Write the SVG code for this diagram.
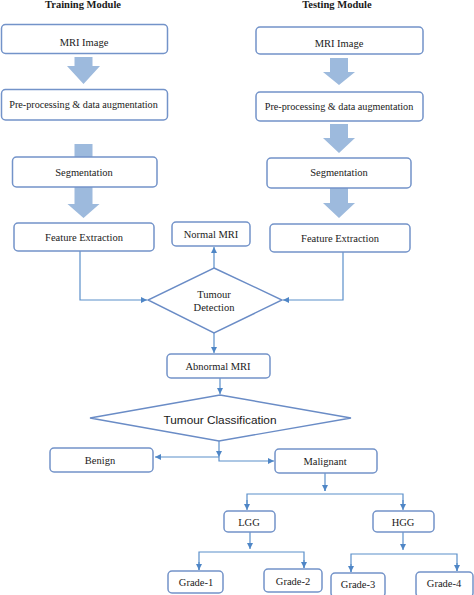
<svg xmlns="http://www.w3.org/2000/svg" width="474" height="595" viewBox="0 0 474 595">
<defs>
<style>
.box{fill:#ffffff;stroke:#7393c9;stroke-width:1.5}
.blk{fill:#9dbadd}
.t{font-family:"Liberation Serif","Times New Roman",serif;font-size:10.5px;fill:#1a1a1a;text-anchor:middle}
.h{font-family:"Liberation Serif","Times New Roman",serif;font-size:10.5px;font-weight:bold;fill:#1a1a1a;text-anchor:middle}
.s{font-family:"Liberation Sans",Arial,sans-serif;font-size:11.8px;fill:#1a1a1a;text-anchor:middle}
.c{fill:none;stroke:#5b8fca;stroke-width:1.2}
.d{fill:#ffffff;stroke:#6a8cc6;stroke-width:1.4}
</style>
<marker id="ah" viewBox="0 0 10 10" refX="10" refY="5" markerWidth="6" markerHeight="6" markerUnits="userSpaceOnUse" orient="auto">
<path d="M0,0 L10,5 L0,10 z" fill="#4f86c6"/>
</marker>
</defs>

<text class="h" x="83" y="8">Training Module</text>
<text class="h" x="337" y="8">Testing Module</text>

<g id="block-arrows">
<path class="blk" d="M74.5,57 H92.5 V66 H100 L83.5,84 L67,66 H74.5 Z"/>
<rect class="blk" x="74.5" y="144" width="18" height="13"/>
<path class="blk" d="M74.5,187 H92.5 V204 H99.5 L83.5,218 L67.5,204 H74.5 Z"/>
<path class="blk" d="M330,58 H348 V72 H355 L339,85 L323,72 H330 Z"/>
<path class="blk" d="M330,124 H348 V138 H355 L339,153 L323,138 H330 Z"/>
<path class="blk" d="M330,188 H348 V203 H355 L339,218 L323,203 H330 Z"/>
</g>

<g id="connectors">
<path class="c" d="M80,251 V300 H147" marker-end="url(#ah)"/>
<path class="c" d="M343,252 V300 H283" marker-end="url(#ah)"/>
<path class="c" d="M214,268 V247" marker-end="url(#ah)"/>
<path class="c" d="M214,333 V353" marker-end="url(#ah)"/>
<path class="c" d="M220,378 V394" marker-end="url(#ah)"/>
<path class="c" d="M219,441 V457" marker-end="url(#ah)"/>
<path class="c" d="M219,457 H155" marker-end="url(#ah)"/>
<path class="c" d="M219,457 V461 H274" marker-end="url(#ah)"/>
<path class="c" d="M325,473 V491"/>
<path class="c" d="M325,485 V491" marker-end="url(#ah)"/>
<path class="c" d="M247,508 V494 H403 V508"/>
<path class="c" d="M247,500 V510" marker-end="url(#ah)"/>
<path class="c" d="M403,500 V510" marker-end="url(#ah)"/>
<path class="c" d="M250,532 V549" marker-end="url(#ah)"/>
<path class="c" d="M199,570 V552 H304 V568"/>
<path class="c" d="M199,562 V570" marker-end="url(#ah)"/>
<path class="c" d="M304,560 V568" marker-end="url(#ah)"/>
<path class="c" d="M403,532 V550" marker-end="url(#ah)"/>
<path class="c" d="M351,572 V554 H457 V571"/>
<path class="c" d="M351,564 V572" marker-end="url(#ah)"/>
<path class="c" d="M457,563 V571" marker-end="url(#ah)"/>
</g>

<g id="train-mri"><rect class="box" x="1.5" y="24.5" width="166" height="29" rx="4"/><text class="t" x="84" y="45.5">MRI Image</text></g>
<g id="train-pre"><rect class="box" x="1.5" y="89.5" width="166" height="30.5" rx="4"/><text class="t" x="83.5" y="107.5" style="font-size:10.2px">Pre-processing &amp; data augmentation</text></g>
<g id="train-seg"><rect class="box" x="12.5" y="157" width="144.5" height="30" rx="4"/><text class="t" x="84" y="175.5">Segmentation</text></g>
<g id="train-feat"><rect class="box" x="14" y="223" width="140" height="28" rx="4"/><text class="t" x="84" y="240.5">Feature Extraction</text></g>

<g id="test-mri"><rect class="box" x="256" y="27" width="167" height="27" rx="4"/><text class="t" x="339" y="46.5">MRI Image</text></g>
<g id="test-pre"><rect class="box" x="256" y="92" width="167" height="29" rx="4"/><text class="t" x="339" y="109.5" style="font-size:10.2px">Pre-processing &amp; data augmentation</text></g>
<g id="test-seg"><rect class="box" x="267" y="158" width="144" height="30" rx="4"/><text class="t" x="339" y="176">Segmentation</text></g>
<g id="test-feat"><rect class="box" x="270" y="224" width="140" height="28" rx="4"/><text class="t" x="340" y="241.5">Feature Extraction</text></g>

<g id="normal-mri"><rect class="box" x="172" y="222" width="78" height="24" rx="4"/><text class="t" x="211" y="237.5">Normal MRI</text></g>
<g id="tumour-detection"><polygon class="d" points="214,268 282,300 214,333 148,300"/><text class="t" x="214" y="298">Tumour</text><text class="t" x="214" y="311">Detection</text></g>
<g id="abnormal-mri"><rect class="box" x="167" y="354" width="103" height="24" rx="4"/><text class="t" x="218" y="369.5">Abnormal MRI</text></g>
<g id="tumour-classification"><polygon class="d" points="220,395 351,418 219,441 90,418"/><text class="s" x="220" y="424">Tumour Classification</text></g>
<g id="benign"><rect class="box" x="50" y="448" width="103" height="24" rx="4"/><text class="t" x="100" y="463.5">Benign</text></g>
<g id="malignant"><rect class="box" x="275" y="449" width="102" height="24" rx="4"/><text class="t" x="325" y="464.5">Malignant</text></g>
<g id="lgg"><rect class="box" x="224" y="511" width="51" height="21" rx="4"/><text class="t" x="249" y="525.5">LGG</text></g>
<g id="hgg"><rect class="box" x="373" y="511" width="61" height="21" rx="4"/><text class="t" x="403" y="525.5">HGG</text></g>
<g id="grade1"><rect class="box" x="168" y="571" width="55" height="22" rx="4"/><text class="t" x="196" y="585.5">Grade-1</text></g>
<g id="grade2"><rect class="box" x="264" y="569" width="58" height="23" rx="4"/><text class="t" x="293" y="584.5">Grade-2</text></g>
<g id="grade3"><rect class="box" x="331" y="573" width="54" height="24" rx="4"/><text class="t" x="358" y="587.5">Grade-3</text></g>
<g id="grade4"><rect class="box" x="416" y="572" width="57" height="25" rx="4"/><text class="t" x="444" y="586.5">Grade-4</text></g>
</svg>
